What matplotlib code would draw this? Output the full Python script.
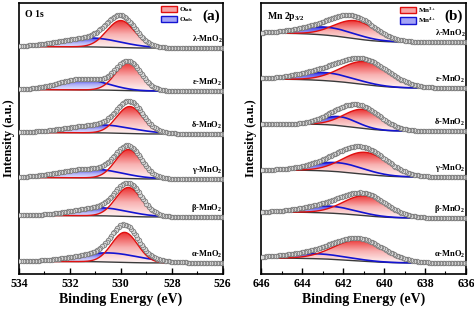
import numpy as np
import matplotlib
matplotlib.use("Agg")
import matplotlib.pyplot as plt
from matplotlib.colors import LinearSegmentedColormap
from matplotlib.patches import Patch

plt.rcParams['font.family'] = 'serif'
plt.rcParams['font.serif'] = ['Liberation Serif', 'DejaVu Serif']
plt.rcParams['font.weight'] = 'bold'
plt.rcParams['mathtext.fontset'] = 'custom'
plt.rcParams['mathtext.rm'] = 'Liberation Serif:bold'
plt.rcParams['mathtext.it'] = 'Liberation Serif:bold:italic'
plt.rcParams['mathtext.bf'] = 'Liberation Serif:bold'

# =========================================================
# Sample names (top to bottom)
# =========================================================
samples = ['λ-MnO$_2$', 'ε-MnO$_2$', 'δ-MnO$_2$', 'γ-MnO$_2$', 'β-MnO$_2$', 'α-MnO$_2$']

# =========================================================
# O 1s fit parameters
# =========================================================
o_offset = [226, 183, 140, 95, 57, 11]          # baseline at low-BE end
o_step = [1.5, 1.5, 1.5, 1.5, 1.5, 1.5]         # background step
o_latt_center = [530.0, 529.7, 529.65, 529.7, 529.7, 529.85]
o_latt_height = [27, 28, 27, 29, 29, 30]
o_latt_fwhm = [1.3, 1.2, 1.2, 1.2, 1.2, 1.2]
o_ads_center = [531.2, 531.5, 530.8, 531.2, 530.8, 530.5]
o_ads_height = [9, 11, 8, 9, 8, 9]
o_ads_fwhm = [2.8, 2.2, 3.0, 2.8, 2.6, 3.0]

# =========================================================
# Mn 2p3/2 fit parameters
# =========================================================
mn_offset = [232, 186, 143, 97, 56, 11]
mn_step = [9, 9, 7, 7, 6, 5]
mn3_center = [641.4, 640.9, 641.0, 640.9, 640.9, 641.2]
mn3_height = [18, 23, 19, 22, 20, 21]
mn3_fwhm = [2.4, 2.8, 2.2, 2.6, 2.5, 2.9]
mn4_center = [642.8, 642.9, 642.2, 642.3, 642.7, 643.4]
mn4_height = [8, 8, 9, 9, 7, 5]
mn4_fwhm = [3.2, 3.2, 2.0, 3.0, 3.0, 3.6]

red_cmap = LinearSegmentedColormap.from_list('r', ['#fff4f4', '#f8b0b0', '#ec3030'])
blue_cmap = LinearSegmentedColormap.from_list('b', ['#f4f4ff', '#b0b0f8', '#3030ec'])
grad = np.linspace(0, 1, 64).reshape(-1, 1)


def gauss(x, c, h, w):
    return h * np.exp(-4 * np.log(2) * (x - c) ** 2 / w ** 2)


def gradient_fill(ax, x, lo, hi, cmap, z):
    poly = ax.fill_between(x, lo, hi, facecolor='none', edgecolor='none')
    im = ax.imshow(grad, extent=[x.min(), x.max(), lo.min(), hi.max()],
                   aspect='auto', origin='lower', cmap=cmap, zorder=z)
    im.set_clip_path(poly.get_paths()[0], transform=ax.transData)


def draw_panel(ax, xlo, xhi, offs, steps, c1, h1, w1, c2, h2, w2, dx_mark):
    x = np.linspace(xlo, xhi, 600)
    xm = np.arange(xlo, xhi + 1e-6, dx_mark)
    for i in range(len(offs)):
        p1 = gauss(x, c1[i], h1[i], w1[i])
        p2 = gauss(x, c2[i], h2[i], w2[i])
        tot = p1 + p2
        # Shirley-like background, higher on the high-BE side
        cum = np.cumsum(tot)
        bg = offs[i] + steps[i] * cum / cum[-1]
        gradient_fill(ax, x, bg, bg + p2, blue_cmap, 2)
        gradient_fill(ax, x, bg, bg + p1, red_cmap, 3)
        ax.plot(x, bg, color='#3a3a3a', lw=1.0, zorder=4)
        ax.plot(x, bg + p2, color='#1414d2', lw=1.2, zorder=5)
        ax.plot(x, bg + p1, color='#e01010', lw=1.0, zorder=5)
        env = np.interp(xm, x, bg + tot)
        ax.plot(xm, env, 'o', ms=3.3, mfc='#d8d8d8', mec='#727272', mew=0.5,
                zorder=6)
        ax.text(xlo + 0.02 * (xhi - xlo) / 8, offs[i] + 3, samples[i],
                ha='right', va='bottom', fontsize=6, fontweight='bold', zorder=7)
    ax.set_xlim(xhi, xlo)
    ax.set_ylim(0, 271)
    ax.set_yticks([])
    ax.set_xticks(np.arange(xlo, xhi + 1e-6, 2))
    ax.set_xticks(np.arange(xlo, xhi + 1e-6, 1), minor=True)
    ax.tick_params(axis='x', which='both', direction='in', labelsize=8.5,
                   pad=3)
    ax.tick_params(axis='x', which='major', length=4, width=1)
    ax.tick_params(axis='x', which='minor', length=2.5, width=0.8)
    for lab in ax.get_xticklabels():
        lab.set_fontweight('bold')
    for s in ax.spines.values():
        s.set_linewidth(1.2)
    ax.set_xlabel('Binding Energy (eV)', fontsize=10, fontweight='bold',
                  labelpad=2)
    ax.set_ylabel('Intensity (a.u.)', fontsize=9, fontweight='bold',
                  labelpad=3)


fig = plt.figure(figsize=(4.74, 3.11), dpi=100)
ax1 = fig.add_axes([0.040, 0.119, 0.430, 0.871])
ax2 = fig.add_axes([0.551, 0.119, 0.432, 0.871])

draw_panel(ax1, 526, 534, o_offset, o_step, o_latt_center, o_latt_height,
           o_latt_fwhm, o_ads_center, o_ads_height, o_ads_fwhm, 0.06)
draw_panel(ax2, 636, 646, mn_offset, mn_step, mn3_center, mn3_height,
           mn3_fwhm, mn4_center, mn4_height, mn4_fwhm, 0.075)

ax1.text(0.03, 0.975, 'O 1s', transform=ax1.transAxes, ha='left', va='top',
         fontsize=7, fontweight='bold')
ax2.text(0.03, 0.975, 'Mn 2p$_{3/2}$', transform=ax2.transAxes, ha='left',
         va='top', fontsize=7, fontweight='bold')
ax1.text(0.985, 0.975, '(a)', transform=ax1.transAxes, ha='right', va='top',
         fontsize=11, fontweight='bold')
ax2.text(0.985, 0.975, '(b)', transform=ax2.transAxes, ha='right', va='top',
         fontsize=11, fontweight='bold')

for ax, labs in [(ax1, ['O$_{\\rm latt}$', 'O$_{\\rm ads}$']),
                 (ax2, ['Mn$^{3+}$', 'Mn$^{4+}$'])]:
    handles = [Patch(facecolor='#f6a4a4', edgecolor='#e01010', lw=1.0),
               Patch(facecolor='#a4a4f6', edgecolor='#1414d2', lw=1.0)]
    ax.legend(handles, labs, loc='upper right', bbox_to_anchor=(0.88, 1.01),
              fontsize=5, frameon=False, handlelength=2.3, handleheight=1.1,
              labelspacing=0.15, borderpad=0.2, handletextpad=0.3)

fig.savefig('out.png', dpi=100)
